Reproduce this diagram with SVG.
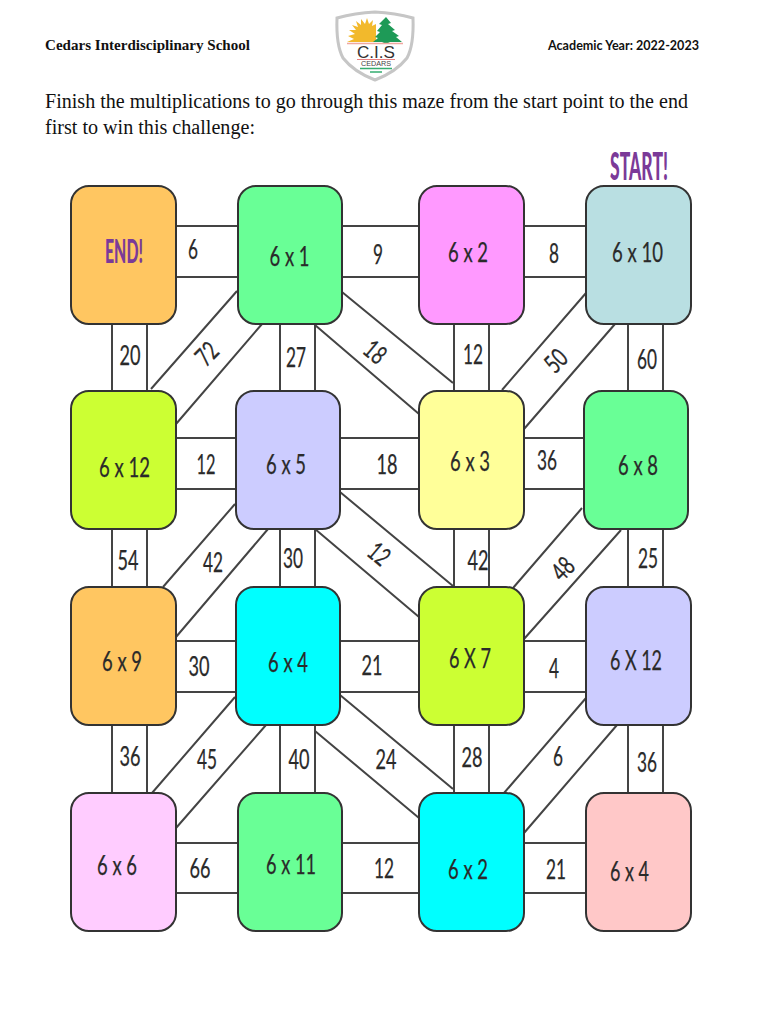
<svg xmlns="http://www.w3.org/2000/svg" width="768" height="1024" viewBox="0 0 768 1024">
<style>
.n{stroke:#333;stroke-width:2}
.c{fill:none;stroke:#444;stroke-width:2}
.t{font-family:"Lato","Liberation Sans",sans-serif;font-size:26px;fill:#2a2a2a;text-anchor:middle;stroke:#2a2a2a;stroke-width:.25}
.p{font-family:"Lato","Liberation Sans",sans-serif;font-weight:900;fill:#7b3a98;text-anchor:middle}
.b{font-family:"Liberation Serif",serif;font-size:20px;fill:#111}
</style>
<rect width="768" height="1024" fill="#fff"/>
<g id="header">
<text x="45" y="50" font-family="Liberation Serif, serif" font-weight="700" font-size="14" fill="#111" textLength="205" lengthAdjust="spacingAndGlyphs">Cedars Interdisciplinary School</text>
<text x="548" y="50" font-family="Lato, Liberation Sans, sans-serif" font-weight="700" font-size="13" fill="#111" textLength="151" lengthAdjust="spacingAndGlyphs">Academic Year: 2022-2023</text>
<text class="b" x="45" y="108" textLength="643" lengthAdjust="spacingAndGlyphs">Finish the multiplications to go through this maze from the start point to the end</text>
<text class="b" x="45" y="134" textLength="210" lengthAdjust="spacingAndGlyphs">first to win this challenge:</text>
</g>
<g id="logo">
<path d="M375 12 Q395 13 413 18 Q414 45 407 58 Q396 72 375 80 Q354 72 343 58 Q336 45 337 18 Q355 13 375 12Z" fill="#fff" stroke="#c6c6c6" stroke-width="3"/>
<path d="M376 42H347L354 39 348 36 355 34 349 30 356 30 352 25 358 27 356 21 361 25 361 19 365 24 367 18 369 24 373 20 372 26 376 24Z" fill="#f2b92c"/>
<path d="M386 17L391 23 388 24 395 30 392 31 399 36 396 37 402 42H390L388 43H384L382 42H373L378 38 375 37 380 32 377 31 382 25 379 24Z" fill="#1e9a57"/>
<path d="M347 43.500H403" stroke="#f0a8a0" stroke-width="1.500"/>
<text x="376" y="58" font-family="Liberation Sans, sans-serif" font-size="17" fill="#333" text-anchor="middle" textLength="38" lengthAdjust="spacingAndGlyphs">C.I.S</text>
<path d="M357 59.500H395" stroke="#e98080" stroke-width="1"/>
<text x="376" y="66" font-family="Liberation Sans, sans-serif" font-size="7" fill="#444" text-anchor="middle" textLength="30" lengthAdjust="spacingAndGlyphs">CEDARS</text>
<path d="M360 68.500H392M370 72H382" stroke="#35ad70" stroke-width="1.500"/>
</g>
<g id="connectors">
<path class="c" d="M176 226H238M176 277H238"/>
<path class="c" d="M342 226H419M342 277H419"/>
<path class="c" d="M524 226H586M524 277H586"/>
<path class="c" d="M176 438H236M176 489H236"/>
<path class="c" d="M340 438H419M340 489H419"/>
<path class="c" d="M524 438H584M524 489H584"/>
<path class="c" d="M176 641H236M176 692H236"/>
<path class="c" d="M340 641H419M340 692H419"/>
<path class="c" d="M524 641H586M524 692H586"/>
<path class="c" d="M176 843H238M176 893H238"/>
<path class="c" d="M342 843H419M342 893H419"/>
<path class="c" d="M524 843H586M524 893H586"/>
<path class="c" d="M112 324V391M147 324V391"/>
<path class="c" d="M280 324V391M315 324V391"/>
<path class="c" d="M454 324V391M489 324V391"/>
<path class="c" d="M628 324V391M663 324V391"/>
<path class="c" d="M112 529V587M147 529V587"/>
<path class="c" d="M280 529V587M315 529V587"/>
<path class="c" d="M454 529V587M489 529V587"/>
<path class="c" d="M628 529V587M663 529V587"/>
<path class="c" d="M112 725V793M147 725V793"/>
<path class="c" d="M280 725V793M315 725V793"/>
<path class="c" d="M454 725V793M489 725V793"/>
<path class="c" d="M628 725V793M663 725V793"/>
<path class="c" d="M237 291L151 389M262 324L176 424"/>
<path class="c" d="M342 292L453 383M315 325L419 414"/>
<path class="c" d="M586 293L502 390M615 324L524 429"/>
<path class="c" d="M235 504L163 587M268 529L176 637"/>
<path class="c" d="M340 492L453 586M315 529L419 617"/>
<path class="c" d="M582 508L513 588M621 530L524 639"/>
<path class="c" d="M235 697L152 793M266 725L176 828"/>
<path class="c" d="M340 695L453 789M315 731L419 818"/>
<path class="c" d="M586 698L504 793M617 725L524 833"/>
</g>
<g id="connector-labels">
<text class="t" x="193" y="259" textLength="10" lengthAdjust="spacingAndGlyphs">6</text>
<text class="t" x="378" y="264" textLength="10" lengthAdjust="spacingAndGlyphs">9</text>
<text class="t" x="554" y="263" textLength="10" lengthAdjust="spacingAndGlyphs">8</text>
<text class="t" x="130" y="365" textLength="21" lengthAdjust="spacingAndGlyphs">20</text>
<text class="t" x="207" y="363" textLength="21" lengthAdjust="spacingAndGlyphs" transform="rotate(-45 207 354)">72</text>
<text class="t" x="296" y="367" textLength="20" lengthAdjust="spacingAndGlyphs">27</text>
<text class="t" x="375" y="361" textLength="21" lengthAdjust="spacingAndGlyphs" transform="rotate(40 375 352)">18</text>
<text class="t" x="473" y="364" textLength="20" lengthAdjust="spacingAndGlyphs">12</text>
<text class="t" x="556" y="370" textLength="21" lengthAdjust="spacingAndGlyphs" transform="rotate(-45 556 361)">50</text>
<text class="t" x="647" y="369" textLength="20" lengthAdjust="spacingAndGlyphs">60</text>
<text class="t" x="206" y="474" textLength="19" lengthAdjust="spacingAndGlyphs">12</text>
<text class="t" x="387" y="474" textLength="21" lengthAdjust="spacingAndGlyphs">18</text>
<text class="t" x="547" y="470" textLength="20" lengthAdjust="spacingAndGlyphs">36</text>
<text class="t" x="128" y="570" textLength="21" lengthAdjust="spacingAndGlyphs">54</text>
<text class="t" x="213" y="572" textLength="20" lengthAdjust="spacingAndGlyphs">42</text>
<text class="t" x="293" y="568" textLength="20" lengthAdjust="spacingAndGlyphs">30</text>
<text class="t" x="379" y="563" textLength="20" lengthAdjust="spacingAndGlyphs" transform="rotate(40 379 554)">12</text>
<text class="t" x="478" y="570" textLength="21" lengthAdjust="spacingAndGlyphs">42</text>
<text class="t" x="563" y="578" textLength="21" lengthAdjust="spacingAndGlyphs" transform="rotate(-45 563 569)">48</text>
<text class="t" x="648" y="568" textLength="20" lengthAdjust="spacingAndGlyphs">25</text>
<text class="t" x="199" y="676" textLength="21" lengthAdjust="spacingAndGlyphs">30</text>
<text class="t" x="372" y="675" textLength="21" lengthAdjust="spacingAndGlyphs">21</text>
<text class="t" x="554" y="678" textLength="10" lengthAdjust="spacingAndGlyphs">4</text>
<text class="t" x="130" y="766" textLength="21" lengthAdjust="spacingAndGlyphs">36</text>
<text class="t" x="207" y="769" textLength="20" lengthAdjust="spacingAndGlyphs">45</text>
<text class="t" x="299" y="769" textLength="21" lengthAdjust="spacingAndGlyphs">40</text>
<text class="t" x="386" y="769" textLength="21" lengthAdjust="spacingAndGlyphs">24</text>
<text class="t" x="472" y="767" textLength="21" lengthAdjust="spacingAndGlyphs">28</text>
<text class="t" x="558" y="766" textLength="10" lengthAdjust="spacingAndGlyphs">6</text>
<text class="t" x="647" y="772" textLength="20" lengthAdjust="spacingAndGlyphs">36</text>
<text class="t" x="200" y="878" textLength="21" lengthAdjust="spacingAndGlyphs">66</text>
<text class="t" x="384" y="878" textLength="20" lengthAdjust="spacingAndGlyphs">12</text>
<text class="t" x="556" y="879" textLength="20" lengthAdjust="spacingAndGlyphs">21</text>
</g>
<text id="start" class="p" x="639" y="180" font-size="37" textLength="58" lengthAdjust="spacingAndGlyphs">START!</text>
<g id="n-end"><rect class="n" x="71" y="186" width="105" height="138" rx="18" fill="#ffc661"/><text class="p" x="124" y="263" font-size="33" textLength="38" lengthAdjust="spacingAndGlyphs">END!</text></g>
<g id="n-r1c2"><rect class="n" x="238" y="186" width="104" height="138" rx="18" fill="#69ff96"/><text class="t" x="289.500" y="266" textLength="40" lengthAdjust="spacingAndGlyphs">6 x 1</text></g>
<g id="n-r1c3"><rect class="n" x="419" y="186" width="105" height="138" rx="18" fill="#ff99ff"/><text class="t" x="468" y="262" textLength="40" lengthAdjust="spacingAndGlyphs">6 x 2</text></g>
<g id="n-r1c4"><rect class="n" x="586" y="186" width="105" height="138" rx="18" fill="#b9dfe2"/><text class="t" x="637.500" y="262" textLength="51" lengthAdjust="spacingAndGlyphs">6 x 10</text></g>
<g id="n-r2c1"><rect class="n" x="71" y="391" width="105" height="138" rx="18" fill="#ccff33"/><text class="t" x="124.500" y="477" textLength="51" lengthAdjust="spacingAndGlyphs">6 x 12</text></g>
<g id="n-r2c2"><rect class="n" x="236" y="391" width="104" height="138" rx="18" fill="#ccccff"/><text class="t" x="286" y="474" textLength="40" lengthAdjust="spacingAndGlyphs">6 x 5</text></g>
<g id="n-r2c3"><rect class="n" x="419" y="391" width="105" height="138" rx="18" fill="#ffff99"/><text class="t" x="470" y="471" textLength="40" lengthAdjust="spacingAndGlyphs">6 x 3</text></g>
<g id="n-r2c4"><rect class="n" x="584" y="391" width="104" height="138" rx="18" fill="#69ff96"/><text class="t" x="638" y="475" textLength="40" lengthAdjust="spacingAndGlyphs">6 x 8</text></g>
<g id="n-r3c1"><rect class="n" x="71" y="587" width="105" height="138" rx="18" fill="#ffc661"/><text class="t" x="122" y="671" textLength="40" lengthAdjust="spacingAndGlyphs">6 x 9</text></g>
<g id="n-r3c2"><rect class="n" x="236" y="587" width="104" height="138" rx="18" fill="#00ffff"/><text class="t" x="288" y="672" textLength="40" lengthAdjust="spacingAndGlyphs">6 x 4</text></g>
<g id="n-r3c3"><rect class="n" x="419" y="587" width="105" height="138" rx="18" fill="#ccff33"/><text class="t" x="470" y="668" textLength="42" lengthAdjust="spacingAndGlyphs">6 X 7</text></g>
<g id="n-r3c4"><rect class="n" x="586" y="587" width="105" height="138" rx="18" fill="#ccccff"/><text class="t" x="636" y="670" textLength="52" lengthAdjust="spacingAndGlyphs">6 X 12</text></g>
<g id="n-r4c1"><rect class="n" x="71" y="793" width="105" height="138" rx="18" fill="#ffccff"/><text class="t" x="117" y="875" textLength="40" lengthAdjust="spacingAndGlyphs">6 x 6</text></g>
<g id="n-r4c2"><rect class="n" x="238" y="793" width="104" height="138" rx="18" fill="#69ff96"/><text class="t" x="291" y="874" textLength="50" lengthAdjust="spacingAndGlyphs">6 x 11</text></g>
<g id="n-r4c3"><rect class="n" x="419" y="793" width="105" height="138" rx="18" fill="#00ffff"/><text class="t" x="468" y="879" textLength="40" lengthAdjust="spacingAndGlyphs">6 x 2</text></g>
<g id="n-r4c4"><rect class="n" x="586" y="793" width="105" height="138" rx="18" fill="#ffc8c8"/><text class="t" x="629.500" y="881" textLength="39" lengthAdjust="spacingAndGlyphs">6 x 4</text></g>
</svg>
